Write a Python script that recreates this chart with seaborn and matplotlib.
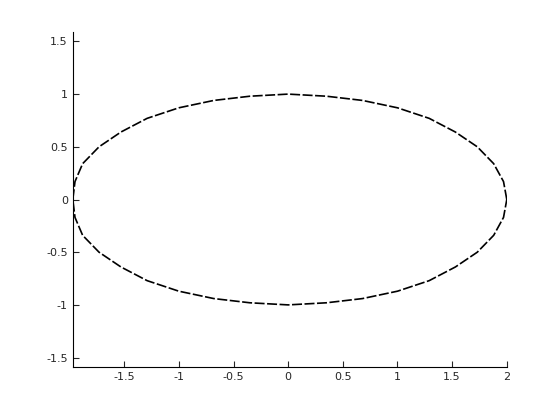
import matplotlib
matplotlib.use("Agg")
import matplotlib.pyplot as plt
import seaborn as sns
import pandas as pd

# ellipse outline, going round counter-clockwise from (2, 0)
x_vals = [2.0, 1.97, 1.88, 1.73, 1.53, 1.29, 1.0, 0.68, 0.35, 0.0,
          -0.35, -0.68, -1.0, -1.29, -1.53, -1.73, -1.88, -1.95, -1.97,
          -1.95, -1.88, -1.73, -1.53, -1.29, -1.0, -0.68, -0.35, 0.0,
          0.35, 0.68, 1.0, 1.29, 1.53, 1.73, 1.88, 1.97, 2.0]
y_vals = [0.0, 0.17, 0.34, 0.5, 0.64, 0.77, 0.87, 0.94, 0.98, 1.0,
          0.98, 0.94, 0.87, 0.77, 0.64, 0.5, 0.34, 0.17, 0.0,
          -0.17, -0.34, -0.5, -0.64, -0.77, -0.87, -0.94, -0.98, -1.0,
          -0.98, -0.94, -0.87, -0.77, -0.64, -0.5, -0.34, -0.17, 0.0]
x_ticks = [-1.5, -1, -0.5, 0, 0.5, 1, 1.5, 2]
y_ticks = [-1.5, -1, -0.5, 0, 0.5, 1, 1.5]

df = pd.DataFrame({"x": x_vals, "y": y_vals})

sns.set_style("white")
plt.rcParams['font.family'] = ['DejaVu Sans']

fig = plt.figure(figsize=(5.6, 4.2), dpi=100)
ax = fig.add_axes([0.130, 0.126, 0.775, 0.798])
sns.lineplot(data=df, x="x", y="y", sort=False, estimator=None, ax=ax,
             color="black", linestyle=(0, (6, 1.5)), linewidth=1.2)

ax.set_xlim(-1.97, 2)
ax.set_ylim(-1.59, 1.59)
ax.set_xticks(x_ticks)
ax.set_yticks(y_ticks)
ax.set_xticklabels([f"{t:g}" for t in x_ticks])
ax.set_yticklabels([f"{t:g}" for t in y_ticks])
ax.set_xlabel("")
ax.set_ylabel("")
ax.tick_params(direction="in", length=4, labelsize=8, left=True, bottom=True)
for side in ["top", "right"]:
    ax.spines[side].set_visible(False)
for side in ["left", "bottom"]:
    ax.spines[side].set_color("black")
    ax.spines[side].set_linewidth(0.8)

fig.savefig("out.png", dpi=100, facecolor="white")
